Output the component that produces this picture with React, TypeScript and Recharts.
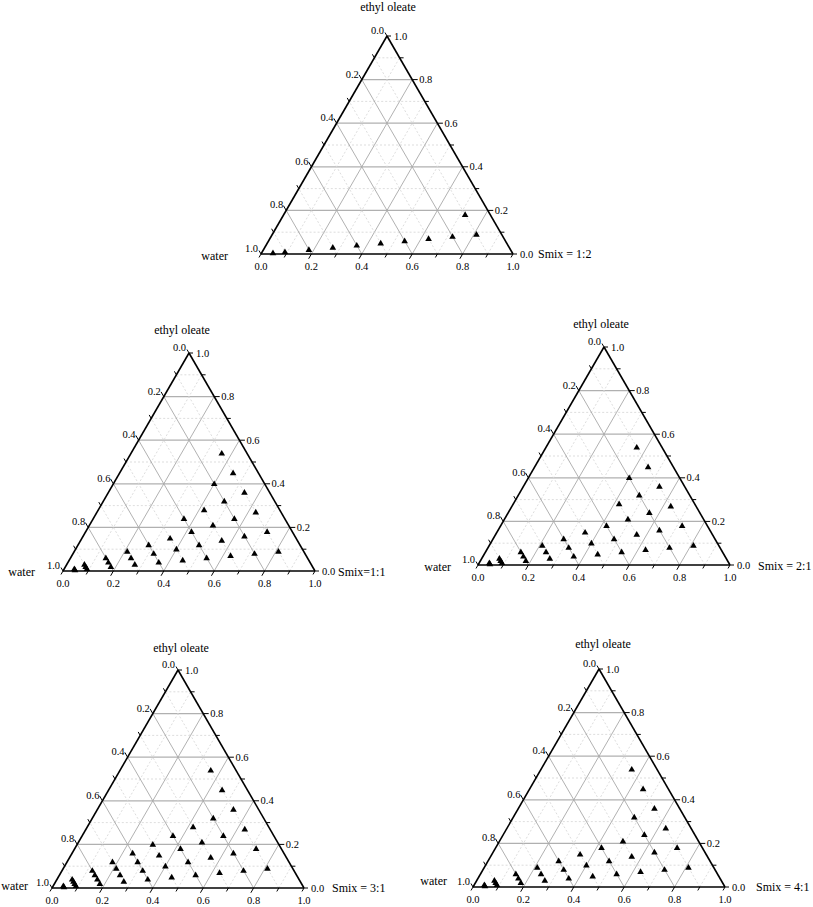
import { ScatterChart, Scatter, XAxis, YAxis, ReferenceLine } from "recharts";

const FONT = "'Liberation Serif', 'Times New Roman', serif";

// axis ticks every 0.1, labels every 0.2
const tickValues = [0, 0.1, 0.2, 0.3, 0.4, 0.5, 0.6, 0.7, 0.8, 0.9, 1.0];
const labelValues = [0, 0.2, 0.4, 0.6, 0.8, 1.0];
const gridValues = [0.1, 0.2, 0.3, 0.4, 0.5, 0.6, 0.7, 0.8, 0.9];
const majorValues = [0.2, 0.4, 0.6, 0.8];

// compositions: ethyl oleate fraction and Smix fraction, water is the rest
const oil12 = [0.005, 0.01, 0.02, 0.03, 0.04, 0.05, 0.06, 0.07, 0.08, 0.09, 0.18];
const smix12 = [0.045, 0.09, 0.18, 0.27, 0.36, 0.45, 0.54, 0.63, 0.72, 0.81, 0.72];

const oil11 = [
  0.005, 0.01, 0.01, 0.02, 0.03, 0.04, 0.05, 0.06, 0.07, 0.08, 0.09, 0.02, 0.04,
  0.06, 0.08, 0.1, 0.12, 0.14, 0.16, 0.18, 0.03, 0.06, 0.09, 0.12, 0.15, 0.18,
  0.21, 0.24, 0.27, 0.24, 0.28, 0.32, 0.36, 0.4, 0.45, 0.54,
];
const smix11 = [
  0.045, 0.04, 0.09, 0.18, 0.27, 0.36, 0.45, 0.54, 0.63, 0.72, 0.81, 0.08, 0.16,
  0.24, 0.32, 0.4, 0.48, 0.56, 0.64, 0.72, 0.07, 0.14, 0.21, 0.28, 0.35, 0.42,
  0.49, 0.56, 0.63, 0.36, 0.42, 0.48, 0.54, 0.4, 0.45, 0.36,
];

const oil21 = [
  0.005, 0.01, 0.01, 0.02, 0.03, 0.04, 0.05, 0.06, 0.07, 0.08, 0.09, 0.02, 0.04,
  0.06, 0.08, 0.1, 0.12, 0.14, 0.16, 0.18, 0.03, 0.06, 0.09, 0.12, 0.15, 0.18,
  0.21, 0.24, 0.27, 0.28, 0.32, 0.36, 0.4, 0.45, 0.54,
];
const smix21 = [
  0.045, 0.04, 0.09, 0.18, 0.27, 0.36, 0.45, 0.54, 0.63, 0.72, 0.81, 0.08, 0.16,
  0.24, 0.32, 0.4, 0.48, 0.56, 0.64, 0.72, 0.07, 0.14, 0.21, 0.28, 0.35, 0.42,
  0.49, 0.56, 0.63, 0.42, 0.48, 0.54, 0.4, 0.45, 0.36,
];

const oil31 = [
  0.005, 0.01, 0.01, 0.02, 0.03, 0.04, 0.05, 0.06, 0.07, 0.08, 0.09, 0.02, 0.04,
  0.06, 0.08, 0.1, 0.12, 0.14, 0.16, 0.18, 0.03, 0.06, 0.09, 0.12, 0.15, 0.18,
  0.21, 0.24, 0.27, 0.04, 0.08, 0.12, 0.16, 0.2, 0.24, 0.28, 0.32, 0.36, 0.45,
  0.54,
];
const smix31 = [
  0.045, 0.04, 0.09, 0.18, 0.27, 0.36, 0.45, 0.54, 0.63, 0.72, 0.81, 0.08, 0.16,
  0.24, 0.32, 0.4, 0.48, 0.56, 0.64, 0.72, 0.07, 0.14, 0.21, 0.28, 0.35, 0.42,
  0.49, 0.56, 0.63, 0.06, 0.12, 0.18, 0.24, 0.3, 0.36, 0.42, 0.48, 0.54, 0.45,
  0.36,
];

const oil41 = [
  0.005, 0.01, 0.01, 0.02, 0.03, 0.04, 0.05, 0.06, 0.07, 0.08, 0.09, 0.02, 0.04,
  0.06, 0.08, 0.1, 0.12, 0.14, 0.16, 0.18, 0.03, 0.06, 0.09, 0.12, 0.15, 0.18,
  0.21, 0.24, 0.27, 0.32, 0.36, 0.45, 0.54,
];
const smix41 = [
  0.045, 0.04, 0.09, 0.18, 0.27, 0.36, 0.45, 0.54, 0.63, 0.72, 0.81, 0.08, 0.16,
  0.24, 0.32, 0.4, 0.48, 0.56, 0.64, 0.72, 0.07, 0.14, 0.21, 0.28, 0.35, 0.42,
  0.49, 0.56, 0.63, 0.48, 0.54, 0.45, 0.36,
];

// plot box: triangle base W px, height H px (equilateral)
const W = 252;
const H = 218;
const M = { top: 40, left: 70, right: 110, bottom: 30 };

// ternary -> cartesian, y is the oil fraction (apex = 1)
const pt = (oil: number, smix: number) => ({ x: smix + oil / 2, y: oil });

const txt = {
  fontFamily: FONT,
  fill: "#000",
} as const;

function Marker(p: any) {
  const { cx, cy } = p;
  return (
    <polygon
      points={`${cx},${cy - 3.4} ${cx - 3.3},${cy + 2.3} ${cx + 3.3},${cy + 2.3}`}
      fill="#000"
    />
  );
}

const LeftTick = (p: any) => {
  const l = p.payload.major ? 5.5 : 4;
  return (
    <line x1={p.cx} y1={p.cy} x2={p.cx - l * 0.5} y2={p.cy - l * 0.866} stroke="#000" strokeWidth={1} />
  );
};
const RightTick = (p: any) => {
  const l = p.payload.major ? 5.5 : 4;
  return <line x1={p.cx} y1={p.cy} x2={p.cx + l} y2={p.cy} stroke="#000" strokeWidth={1} />;
};
const BottomTick = (p: any) => {
  const l = p.payload.major ? 5.5 : 4;
  return (
    <line x1={p.cx} y1={p.cy} x2={p.cx - l * 0.5} y2={p.cy + l * 0.866} stroke="#000" strokeWidth={1} />
  );
};

const LeftLabel = (p: any) => (
  <text x={p.cx - 3} y={p.cy - 2} textAnchor="end" fontSize={10.5} {...txt}>
    {p.payload.t}
  </text>
);
const RightLabel = (p: any) => (
  <text x={p.cx + 7} y={p.cy + 3.5} textAnchor="start" fontSize={10.5} {...txt}>
    {p.payload.t}
  </text>
);
const BottomLabel = (p: any) => (
  <text x={p.cx} y={p.cy + 16} textAnchor="middle" fontSize={10.5} {...txt}>
    {p.payload.t}
  </text>
);
const CornerLabel = (p: any) => (
  <text
    x={p.cx + p.payload.dx}
    y={p.cy + p.payload.dy}
    textAnchor={p.payload.anchor}
    fontSize={12}
    {...txt}
  >
    {p.payload.t}
  </text>
);

const isMajor = (v: number) => majorValues.some((m) => Math.abs(m - v) < 1e-6);

interface PanelProps {
  oil: number[];
  smix: number[];
  title: string;
  bx: number; // page position of the water corner
  by: number;
  ole: [number, number];
  water: [number, number];
  sm: [number, number];
}

function Ternary({ oil, smix, title, bx, by, ole, water, sm }: PanelProps) {
  const points = oil.map((o, i) => pt(o, smix[i]));
  const leftTicks = tickValues.map((v) => ({ ...pt(1 - v, 0), major: isMajor(v) }));
  const rightTicks = tickValues.map((v) => ({ ...pt(v, 1 - v), major: isMajor(v) }));
  const bottomTicks = tickValues.map((v) => ({ ...pt(0, v), major: isMajor(v) }));
  const leftLabels = labelValues.map((v) => ({ ...pt(1 - v, 0), t: v.toFixed(1) }));
  const rightLabels = labelValues.map((v) => ({ ...pt(v, 1 - v), t: v.toFixed(1) }));
  const bottomLabels = labelValues.map((v) => ({ ...pt(0, v), t: v.toFixed(1) }));
  const corners = [
    { ...pt(1, 0), t: "ethyl oleate", anchor: "middle", dx: ole[0], dy: ole[1] },
    { ...pt(0, 0), t: "water", anchor: "end", dx: water[0], dy: water[1] },
    { ...pt(0, 1), t: title, anchor: "start", dx: sm[0], dy: sm[1] },
  ];

  return (
    <div
      style={{
        position: "absolute",
        left: bx - M.left,
        top: by - H - M.top,
      }}
    >
      <ScatterChart width={M.left + W + M.right} height={M.top + H + M.bottom} margin={M}>
        <XAxis type="number" dataKey="x" domain={[0, 1]} hide />
        <YAxis type="number" dataKey="y" domain={[0, 1]} hide />
        {gridValues.map((v) => (
          <ReferenceLine
            key={`o${v}`}
            segment={[pt(v, 0), pt(v, 1 - v)]}
            stroke={isMajor(v) ? "#b0b0b0" : "#d4d4d4"}
            strokeWidth={isMajor(v) ? 1.2 : 0.8}
            strokeDasharray={isMajor(v) ? undefined : "2 2"}
            ifOverflow="visible"
          />
        ))}
        {gridValues.map((v) => (
          <ReferenceLine
            key={`s${v}`}
            segment={[pt(0, v), pt(1 - v, v)]}
            stroke={isMajor(v) ? "#a8a8a8" : "#d4d4d4"}
            strokeWidth={isMajor(v) ? 0.9 : 0.8}
            strokeDasharray={isMajor(v) ? undefined : "2 2"}
            ifOverflow="visible"
          />
        ))}
        {gridValues.map((v) => (
          <ReferenceLine
            key={`w${v}`}
            segment={[pt(0, 1 - v), pt(1 - v, 0)]}
            stroke={isMajor(v) ? "#a8a8a8" : "#d4d4d4"}
            strokeWidth={isMajor(v) ? 0.9 : 0.8}
            strokeDasharray={isMajor(v) ? undefined : "2 2"}
            ifOverflow="visible"
          />
        ))}
        <ReferenceLine segment={[pt(0, 0), pt(0, 1)]} stroke="#000" strokeWidth={1.6} ifOverflow="visible" />
        <ReferenceLine segment={[pt(0, 1), pt(1, 0)]} stroke="#000" strokeWidth={1.6} ifOverflow="visible" />
        <ReferenceLine segment={[pt(1, 0), pt(0, 0)]} stroke="#000" strokeWidth={1.6} ifOverflow="visible" />
        <Scatter data={leftTicks} shape={LeftTick} isAnimationActive={false} />
        <Scatter data={rightTicks} shape={RightTick} isAnimationActive={false} />
        <Scatter data={bottomTicks} shape={BottomTick} isAnimationActive={false} />
        <Scatter data={leftLabels} shape={LeftLabel} isAnimationActive={false} />
        <Scatter data={rightLabels} shape={RightLabel} isAnimationActive={false} />
        <Scatter data={bottomLabels} shape={BottomLabel} isAnimationActive={false} />
        <Scatter data={corners} shape={CornerLabel} isAnimationActive={false} />
        <Scatter data={points} shape={Marker} isAnimationActive={false} />
      </ScatterChart>
    </div>
  );
}

export default function App() {
  return (
    <div
      style={{
        position: "absolute",
        left: 0,
        top: 0,
        width: 813,
        height: 907,
        overflow: "hidden",
        background: "#fff",
      }}
    >
      <Ternary oil={oil12} smix={smix12} title="Smix = 1:2" bx={261} by={254} ole={[1, -25]} water={[-33, 6]} sm={[25, 4]} />
      <Ternary oil={oil11} smix={smix11} title="Smix=1:1" bx={62.7} by={570.7} ole={[-7, -19]} water={[-28, 5]} sm={[23, 5]} />
      <Ternary oil={oil21} smix={smix21} title="Smix = 2:1" bx={477.7} by={565} ole={[-3, -19]} water={[-27, 6]} sm={[28, 5]} />
      <Ternary oil={oil31} smix={smix31} title="Smix = 3:1" bx={52.3} by={888.3} ole={[3, -18]} water={[-24, 2]} sm={[28, 4]} />
      <Ternary oil={oil41} smix={smix41} title="Smix = 4:1" bx={472.7} by={886.7} ole={[4, -21]} water={[-26, -2]} sm={[31, 4]} />
    </div>
  );
}
